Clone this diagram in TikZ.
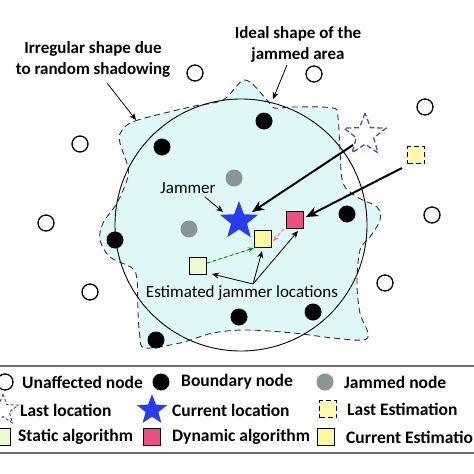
\documentclass[tikz,border=0pt]{standalone}
\usepackage{fontspec}
\setmainfont{Carlito}
\usetikzlibrary{shapes.geometric,arrows.meta}
\definecolor{areafill}{RGB}{224,247,247}
\definecolor{jamgrey}{RGB}{140,148,148}
\definecolor{starblue}{RGB}{40,60,240}
\definecolor{dstarblue}{RGB}{70,80,200}
\definecolor{lastest}{RGB}{255,250,175}
\definecolor{curest}{RGB}{255,248,160}
\definecolor{statgreen}{RGB}{236,250,208}
\definecolor{dynpink}{RGB}{236,80,130}
\definecolor{legline}{RGB}{110,110,110}
\tikzset{
  unaff/.style={circle, draw, line width=1.3pt, fill=white, minimum size=16pt, inner sep=0pt},
  bnd/.style={circle, fill=black, minimum size=17pt, inner sep=0pt},
  jam/.style={circle, fill=jamgrey, minimum size=17pt, inner sep=0pt},
  sq/.style={rectangle, draw, line width=1.3pt, minimum size=17pt, inner sep=0pt},
  sqdash/.style={dash pattern=on 5pt off 3pt},
  curstar/.style={star, star points=5, star point ratio=2.4, fill=starblue, minimum size=40pt, inner sep=0pt},
  laststar/.style={star, star points=5, star point ratio=2.4, draw=dstarblue, dash pattern=on 5pt off 3pt, line width=1.3pt, minimum size=44pt, inner sep=0pt},
  lbl/.style={font=\fontsize{17}{21}\selectfont\bfseries, align=center, inner sep=0pt},
  plain/.style={font=\fontsize{17}{21}\selectfont, inner sep=0pt},
  legtxt/.style={font=\fontsize{17.5}{20}\selectfont\bfseries, anchor=west, inner sep=0pt},
  thinarrow/.style={-{Stealth[length=7pt,width=6pt]}, line width=0.8pt},
  thickarrow/.style={-{Stealth[length=12pt,width=10pt]}, line width=2pt},
}
\begin{document}
\begin{tikzpicture}[x=1pt,y=-1pt]
\useasboundingbox (0,0) rectangle (474,474);
\clip (0,0) rectangle (474,474);
\fill[white] (0,0) rectangle (474,474);
% irregular jammed area
\filldraw[fill=areafill, draw=black!80, dash pattern=on 6pt off 4pt, line width=0.9pt]
  plot[smooth cycle, tension=0.55] coordinates {
  (121,132) (135,121) (190,107) (223,100) (245,80) (267,100) (274,108)
  (293,107) (333,108) (338,118) (340,150) (343,183) (357,197) (377,207)
  (380,220) (370,237) (360,250) (357,283) (360,313) (368,333) (363,340)
  (333,338) (293,333) (247,330) (213,333) (180,343) (145,348) (140,337)
  (138,313) (137,280) (132,268) (110,257) (100,240) (103,223) (117,203)
  (127,180) (128,167) (120,143)};
% ideal circle
\draw[line width=0.9pt] (241,225) circle (126);
% unaffected nodes
\node[unaff] (u1) at (195,73) {};
\node[unaff] (u2) at (80,144) {};
\node[unaff] (u3) at (314,74) {};
\node[unaff] (u4) at (425,107) {};
\node[unaff] (u5) at (46,223) {};
\node[unaff] (u6) at (90,292) {};
\node[unaff] (u7) at (432,215) {};
\node[unaff] (u8) at (385,283) {};
% boundary nodes
\node[bnd] (b1) at (162,147) {};
\node[bnd] (b2) at (264,121) {};
\node[bnd] (b3) at (347,214) {};
\node[bnd] (b4) at (115,240) {};
\node[bnd] (b5) at (239,317) {};
\node[bnd] (b6) at (313,312) {};
\node[bnd] (b7) at (156,340) {};
% jammed nodes
\node[jam] (j1) at (234,178) {};
\node[jam] (j2) at (189,229) {};
% stars
\node[curstar] (cur) at (239,221) {};
\node[laststar] (last) at (365,135) {};
% squares
\node[sq, sqdash, fill=lastest] (lest) at (416,155) {};
\node[sq, fill=dynpink] (dyn) at (295,220) {};
\node[sq, fill=curest] (cest) at (263,239) {};
\node[sq, fill=statgreen] (stat) at (198,266) {};
% coordinates for arrow ends
\coordinate (a1s) at (353,145);
\coordinate (a1e) at (252,212);
\coordinate (a2s) at (402,168);
\coordinate (a2e) at (306,217);
\draw[thickarrow] (a1s) -- (a1e);
\draw[thickarrow] (a2s) -- (a2e);
% dashed estimate arrows
\draw[-{Stealth[length=6pt,width=5pt]}, dashed, line width=1pt, draw=green!60!black, fill=green!60!black] (stat.east) ++(0,-3) coordinate (gs) -- (254,248) coordinate (ge);
\draw[-{Stealth[length=6pt,width=5pt]}, dashed, line width=1pt, draw=dynpink!80, fill=dynpink!80] (dyn.south west) ++(-2,0) coordinate (ps) -- (273,241) coordinate (pe);
% labels
\node[lbl] (irr) at (93,59) {Irregular shape due\\to random shadowing};
\node[lbl] (ideal) at (298,44) {Ideal shape of the\\jammed area};
\coordinate (irrs) at (107,83);
\coordinate (irre) at (136,120);
\draw[thinarrow] (irrs) -- (irre);
\coordinate (ids) at (287,65);
\coordinate (ide) at (273,99);
\draw[thinarrow] (ids) -- (ide);
\node[plain] (jm) at (188,188) {Jammer};
\coordinate (jms) at (205,197);
\coordinate (jme) at (223,212);
\draw[thinarrow] (jms) -- (jme);
\node[plain] (estl) at (242,293) {Estimated jammer locations};
\coordinate (es) at (253,284);
\draw[thinarrow] (es) -- (212,274);
\draw[thinarrow] (es) -- (262,251);
\draw[thinarrow] (es) -- (298,231);
% legend
\draw[legline, line width=1.8pt] (-10,366) rectangle (484,453);
\node[unaff] (lu) at (5,382) {};
\node[legtxt] (lut) at (22,382) {Unaffected node};
\node[bnd] (lb) at (161,382) {};
\node[legtxt] (lbt) at (181,382) {Boundary node};
\node[jam] (lj) at (325,382) {};
\node[legtxt] (ljt) at (344,382) {Jammed node};
\node[laststar, minimum size=32pt, line width=1pt, dash pattern=on 3pt off 2pt] (lls) at (3,410) {};
\node[legtxt] (llst) at (20,410) {Last location};
\node[curstar, minimum size=32pt] (lcs) at (152,410) {};
\node[legtxt] (lcst) at (172,410) {Current location};
\node[sq, sqdash, fill=lastest] (lle) at (328,409) {};
\node[legtxt] (llet) at (347,409) {Last Estimation};
\node[sq, fill=statgreen] (lsa) at (2,437) {};
\node[legtxt] (lsat) at (18,437) {Static algorithm};
\node[sq, fill=dynpink] (lda) at (152,437) {};
\node[legtxt] (ldat) at (172,437) {Dynamic algorithm};
\node[sq, fill=curest] (lce) at (326,437) {};
\node[legtxt] (lcet) at (346,437) {Current Estimation};
\end{tikzpicture}
\end{document}
